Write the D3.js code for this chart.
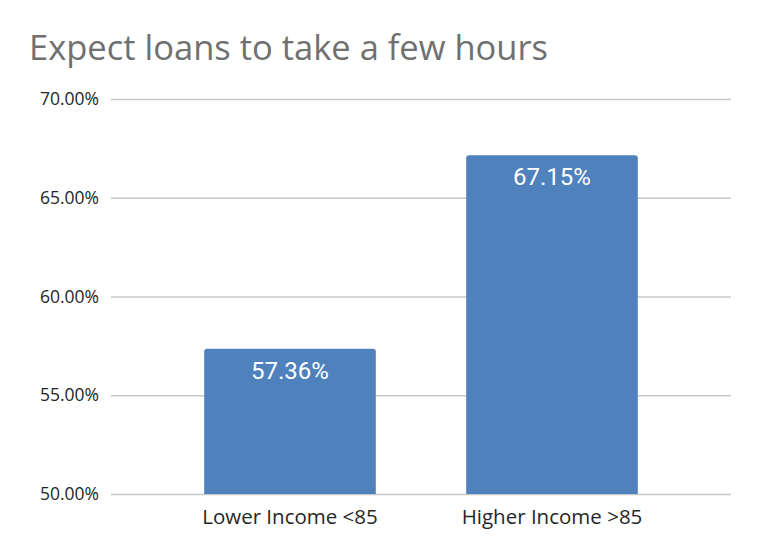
<!DOCTYPE html>
<html>
<head>
<meta charset="utf-8">
<script src="https://cdn.jsdelivr.net/npm/d3@7"></script>
<style>
  html, body { margin: 0; padding: 0; background: #fff; }
  svg { display: block; }
</style>
</head>
<body>
<div class="canvas"></div>
<script>
// Data
var categories = ['Lower Income <85', 'Higher Income >85'],
    values = [57.36, 67.15],
    yTicks = [50, 55, 60, 65, 70],
    title = 'Expect loans to take a few hours';

// Config
var width = 758,
    height = 558,
    barColor = '#4f81bd',
    gridColor = '#c8c8c8',
    font = '"Open Sans", "Noto Sans", sans-serif';

var svg = d3.select('.canvas').append('svg')
    .attr('width', width)
    .attr('height', height);

var x = d3.scaleBand()
    .domain(categories)
    .range([159, 683])
    .paddingInner(0.345)
    .paddingOuter(0.1725);

var y = d3.scaleLinear()
    .domain([50, 70])
    .range([494, 99]);

// Title
svg.append('text')
    .attr('x', 29)
    .attr('y', 60)
    .attr('font-family', font)
    .attr('font-size', 34.5)
    .attr('fill', '#707070')
    .text(title);

// Gridlines + y labels
var yAxis = d3.axisLeft(y)
    .tickValues(yTicks)
    .tickSize(-(731 - 111))
    .tickPadding(12)
    .tickFormat(function (d) { return d.toFixed(2) + '%'; });

var gy = svg.append('g')
    .attr('transform', 'translate(111,0)')
    .call(yAxis);
gy.select('.domain').remove();
gy.selectAll('.tick line')
    .attr('stroke', gridColor)
    .attr('stroke-width', 1.5)
    .attr('x1', 0)
    .attr('x2', 731 - 111);
gy.selectAll('.tick text')
    .attr('x', -12)
    .attr('font-family', font)
    .attr('font-size', 17.5)
    .attr('fill', '#262626');

// Bars
svg.selectAll('path.bar')
    .data(values)
    .enter()
    .append('path')
    .attr('class', 'bar')
    .attr('fill', barColor)
    .attr('d', function (d, i) {
        var x0 = x(categories[i]), w = x.bandwidth(),
            y0 = y(d), y1 = y(50), r = 3;
        return 'M' + x0 + ',' + y1 +
            'V' + (y0 + r) +
            'Q' + x0 + ',' + y0 + ' ' + (x0 + r) + ',' + y0 +
            'H' + (x0 + w - r) +
            'Q' + (x0 + w) + ',' + y0 + ' ' + (x0 + w) + ',' + (y0 + r) +
            'V' + y1 + 'Z';
    });

// Value labels
svg.selectAll('text.val')
    .data(values)
    .enter()
    .append('text')
    .attr('class', 'val')
    .attr('x', function (d, i) { return x(categories[i]) + x.bandwidth() / 2; })
    .attr('y', function (d) { return y(d) + 30; })
    .attr('text-anchor', 'middle')
    .attr('font-family', 'Roboto, sans-serif')
    .attr('font-size', 24)
    .attr('fill', '#ffffff')
    .text(function (d) { return d.toFixed(2) + '%'; });

// Category labels
var xAxis = d3.axisBottom(x).tickSize(0).tickPadding(15);
var gx = svg.append('g')
    .attr('transform', 'translate(0,494)')
    .call(xAxis);
gx.select('.domain').remove();
gx.selectAll('.tick text')
    .attr('font-family', font)
    .attr('font-size', 20.5)
    .attr('fill', '#262626');
</script>
</body>
</html>
